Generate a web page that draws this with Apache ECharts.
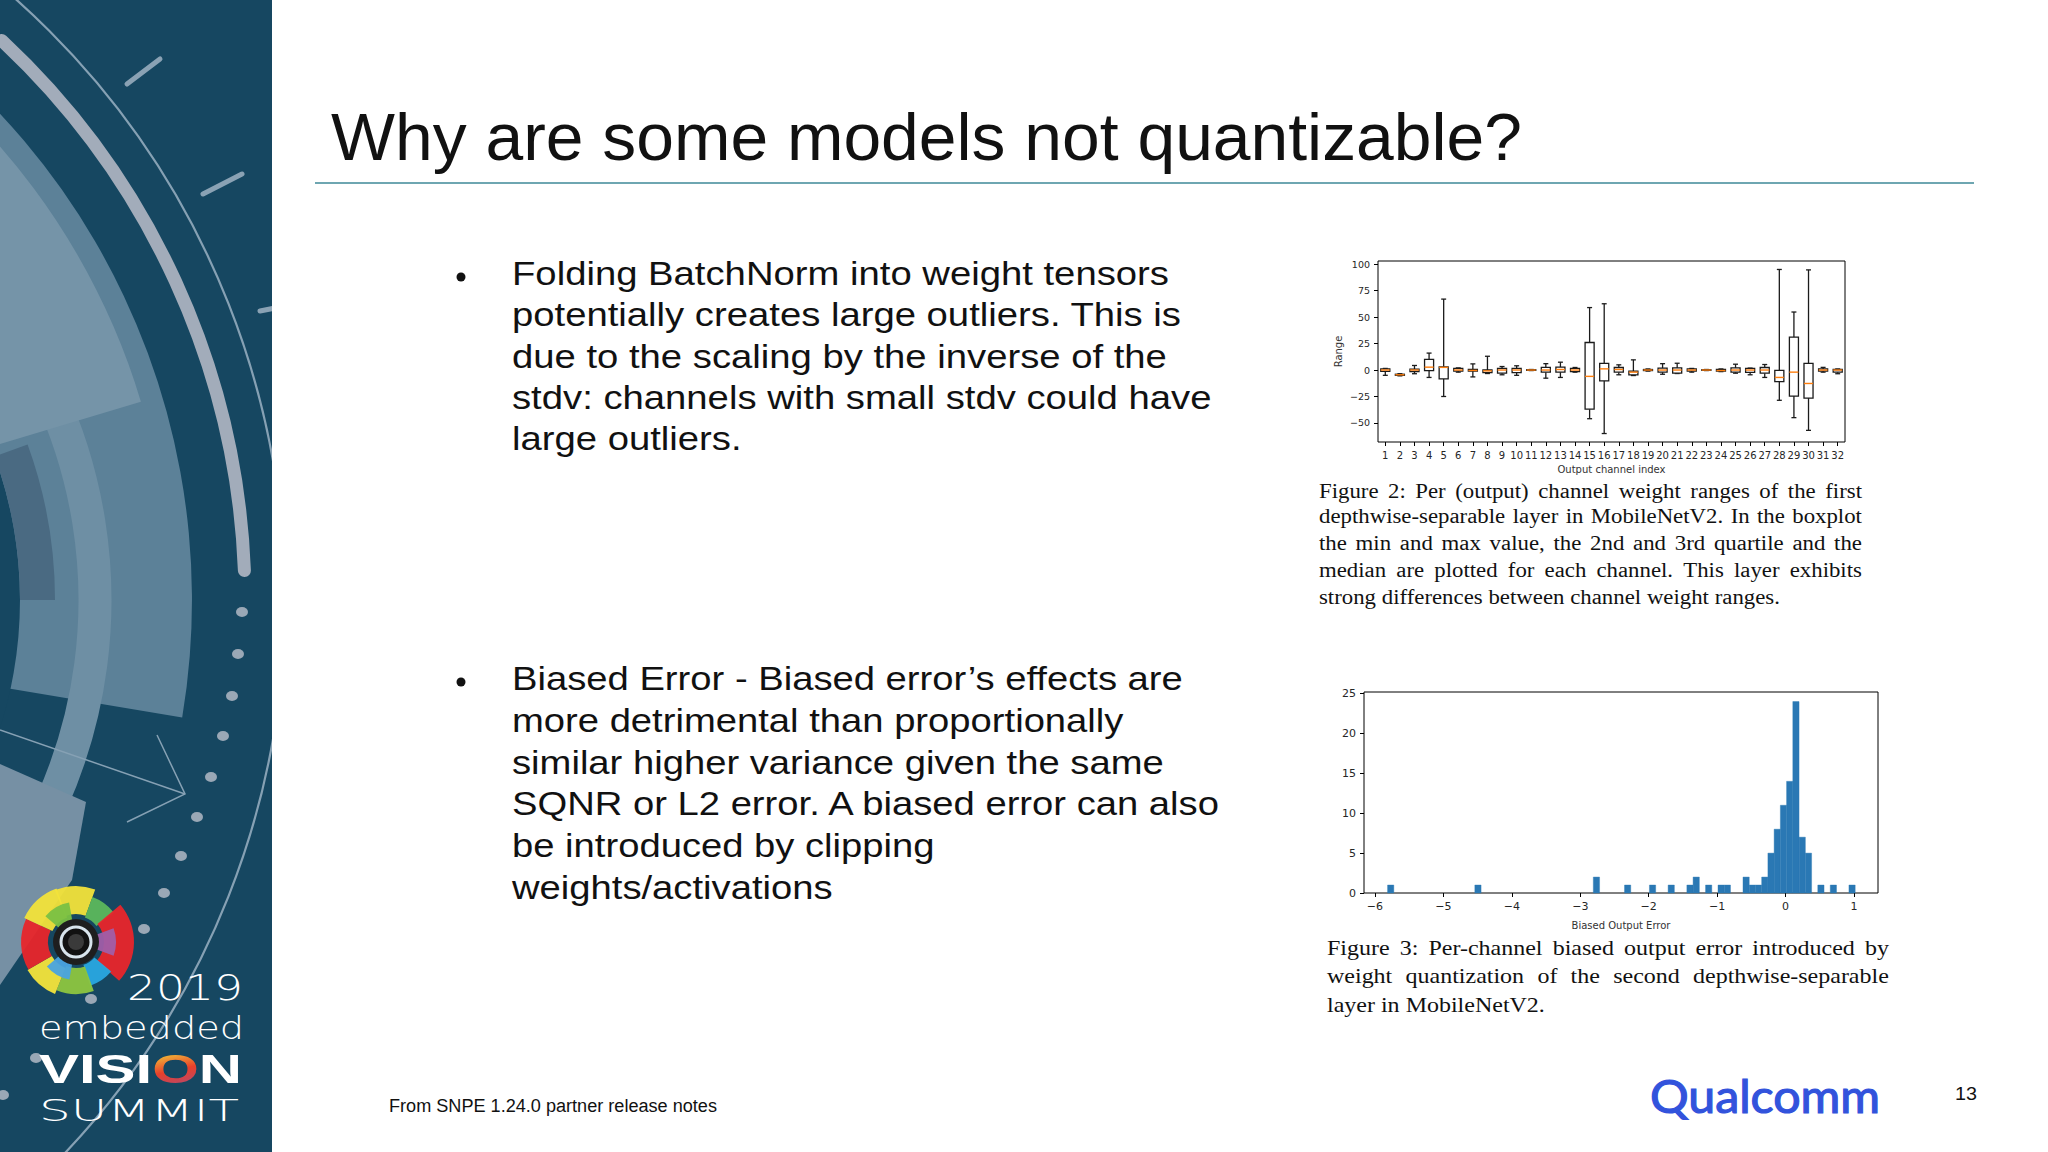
<!DOCTYPE html>
<html><head><meta charset="utf-8">
<script src="https://cdn.jsdelivr.net/npm/echarts@6/dist/echarts.min.js"></script>
<style>
html,body{margin:0;padding:0;background:#fff;width:2048px;height:1152px;overflow:hidden}
#deco,#chart,#txt{position:absolute;left:0;top:0;width:2048px;height:1152px}
#txt{pointer-events:none}
</style></head><body>
<svg id="deco" width="2048" height="1152" xmlns="http://www.w3.org/2000/svg"></svg>
<div id="chart"></div>
<svg id="txt" width="2048" height="1152" xmlns="http://www.w3.org/2000/svg"></svg>
<script>
// ---------------- DATA ----------------
// Figure 2: per-channel weight ranges (boxplot)
const channels  = [1,2,3,4,5,6,7,8,9,10,11,12,13,14,15,16,17,18,19,20,21,22,23,24,25,26,27,28,29,30,31,32];
const boxMin    = [-5,-5.5,-3.5,-7,-25,-2,-6.5,-3.3,-4.5,-5,-0.5,-7.7,-7,-2,-46,-60,-4.5,-5.2,-1,-4,-3.3,-2,-0.5,-1.5,-3,-4.5,-7,-28.6,-45,-57,-2,-3.5];
const boxQ1     = [-1.2,-5,-1.4,-0.5,-8.3,-1,-1,-2.5,-3,-2.5,-0.3,-2,-2,-1.5,-37,-10.2,-2,-4.5,-0.5,-2,-3,-1,-0.3,-1,-2,-2.3,-3,-11,-24.6,-26.5,-1,-2];
const boxMedian = [0,-4.5,0,2.7,2.5,0,-0.4,-0.8,0,0,0,0,0.5,0,-6,1.1,0.5,-2,0,0,0,0,0,-0.5,0,0,0,-7,-2,-12.7,0,0];
const boxQ3     = [1.1,-4,0.8,10,3,1.5,0.5,0,1.5,1.5,0.3,2.5,2.7,1.5,26,6.2,2.4,-1,0.5,1.8,2,1,0.3,0.5,2,1.5,2.4,-0.4,31,6.2,1,0.5];
const boxMax    = [1.5,-3.5,4.3,16,67,2,5.8,13,3.3,4,0.5,6,7.4,2.4,59,62.6,4.9,9.6,1,6,6.4,1.5,0.5,1,5.5,1.8,5.2,95,54.8,94.6,2.5,1];
const boxYTicks = [-50,-25,0,25,50,75,100];

// Figure 3: histogram of per-channel biased output error
const histBinCenter = [-5.770,-4.495,-2.764,-2.308,-1.944,-1.671,-1.397,-1.306,-1.124,-0.942,-0.851,-0.577,-0.486,-0.395,-0.304,-0.213,-0.122,-0.031,0.060,0.151,0.243,0.334,0.516,0.698,0.971];
const histCounts    = [1,1,2,1,1,1,1,2,1,1,1,2,1,1,2,5,8,11,14,24,7,5,1,1,1];
const histBinWidth  = 0.0911;
const histXTicks = [-6,-5,-4,-3,-2,-1,0,1];
const histYTicks = [0,5,10,15,20,25];

// ---------------- CHART ----------------
const minus = v => (v < 0 ? '\u2212' + Math.abs(v) : String(v));
const chart = echarts.init(document.getElementById('chart'), null, {renderer:'svg', width:2048, height:1152});

function valueAxis(grid, min, max, ticks, fs, extra){
  return Object.assign({
    type:'value', gridIndex:grid, min:min, max:max,
    axisLine:{show:false, onZero:false},
    axisTick:{show:true, inside:false, length:4, lineStyle:{color:'#000', width:1}, customValues:ticks},
    axisLabel:{customValues:ticks, formatter:minus, margin:8, hideOverlap:false, fontFamily:'DejaVu Sans', fontSize:fs, color:'#262626'},
    splitLine:{show:false}
  }, extra || {});
}
const nameStyle = {fontFamily:'DejaVu Sans', fontSize:10, color:'#333'};

const boxData = channels.map((c,i)=>[c, boxMin[i], boxQ1[i], boxMedian[i], boxQ3[i], boxMax[i]]);
const histData = histBinCenter.map((c,i)=>[c - histBinWidth/2, c + histBinWidth/2, histCounts[i]]);

chart.setOption({
  animation:false,
  grid:[
    {left:1378, top:261, width:467, height:181, show:true, borderColor:'#000', borderWidth:1, backgroundColor:'transparent'},
    {left:1364, top:692, width:514, height:201, show:true, borderColor:'#000', borderWidth:1, backgroundColor:'transparent'}
  ],
  xAxis:[
    valueAxis(0, 0.5, 32.5, channels, 10, {name:'Output channel index', nameLocation:'middle', nameGap:22, nameTextStyle:nameStyle}),
    valueAxis(1, -6.16, 1.35, histXTicks, 11, {name:'Biased Output Error', nameLocation:'middle', nameGap:27, nameTextStyle:nameStyle})
  ],
  yAxis:[
    valueAxis(0, -68, 103, boxYTicks, 9.5, {name:'Range', nameLocation:'middle', nameGap:35, nameRotate:90, nameTextStyle:nameStyle}),
    valueAxis(1, 0, 25.2, histYTicks, 11)
  ],
  series:[
    {
      type:'custom', xAxisIndex:0, yAxisIndex:0, data:boxData, encode:{x:0, y:[1,2,3,4,5]},
      renderItem:function(params, api){
        const x = api.value(0);
        const lo = api.coord([x, api.value(1)]);
        const q1 = api.coord([x, api.value(2)]);
        const md = api.coord([x, api.value(3)]);
        const q3 = api.coord([x, api.value(4)]);
        const hi = api.coord([x, api.value(5)]);
        const hw = api.size([0.31, 0])[0];
        const cw = hw * 0.55;
        const ls = {stroke:'#1b1b1b', lineWidth:1.3, fill:null};
        return {type:'group', children:[
          {type:'line', shape:{x1:lo[0], y1:lo[1], x2:q1[0], y2:q1[1]}, style:ls},
          {type:'line', shape:{x1:q3[0], y1:q3[1], x2:hi[0], y2:hi[1]}, style:ls},
          {type:'line', shape:{x1:lo[0]-cw, y1:lo[1], x2:lo[0]+cw, y2:lo[1]}, style:ls},
          {type:'line', shape:{x1:hi[0]-cw, y1:hi[1], x2:hi[0]+cw, y2:hi[1]}, style:ls},
          {type:'rect', shape:{x:q1[0]-hw, y:q3[1], width:2*hw, height:Math.max(q1[1]-q3[1], 0.5)},
            style:{fill:'#ffffff', stroke:'#1b1b1b', lineWidth:1.3}},
          {type:'line', shape:{x1:md[0]-hw, y1:md[1], x2:md[0]+hw, y2:md[1]}, style:{stroke:'#ff7f0e', lineWidth:1.4}}
        ]};
      }
    },
    {
      type:'custom', xAxisIndex:1, yAxisIndex:1, data:histData, encode:{x:[0,1], y:2},
      renderItem:function(params, api){
        const p0 = api.coord([api.value(0), api.value(2)]);
        const p1 = api.coord([api.value(1), 0]);
        return {type:'rect', shape:{x:p0[0], y:p0[1], width:p1[0]-p0[0], height:p1[1]-p0[1]},
          style:{fill:'#2a78b4', stroke:'#2a78b4', lineWidth:0.4}};
      }
    }
  ]
});

// ---------------- SLIDE DECORATION & TEXT ----------------
const NS = 'http://www.w3.org/2000/svg';
function mk(parent, tag, attrs, text){
  const e = document.createElementNS(NS, tag);
  for (const k in attrs) e.setAttribute(k, attrs[k]);
  if (text !== undefined) e.textContent = text;
  parent.appendChild(e);
  return e;
}
const deco = document.getElementById('deco');
const defs = mk(deco, 'defs', {});
const cp = mk(defs, 'clipPath', {id:'side'});
mk(cp, 'rect', {x:0, y:0, width:272, height:1152});
const grad = mk(defs, 'linearGradient', {id:'ograd', x1:0, y1:0, x2:1, y2:1});
[['0','#7ac143'],['0.35','#f2d23a'],['0.6','#e8402b'],['1','#8a4fa8']].forEach(s=>mk(grad,'stop',{offset:s[0],'stop-color':s[1]}));
const side = mk(deco, 'g', {'clip-path':'url(#side)'});
const BG = '#164761';
mk(side, 'rect', {x:0, y:0, width:272, height:1152, fill:BG});
const C = [-520, 600];
const C2 = [-400, 600];
function pt(r, a, c){ c = c || C; const t = a*Math.PI/180; return (c[0]+r*Math.cos(t)).toFixed(1)+','+(c[1]+r*Math.sin(t)).toFixed(1); }
function ring(r0, r1, a0, a1, c){
  const lg = (a1-a0) > 180 ? 1 : 0;
  return 'M'+pt(r1,a0,c)+' A'+r1+' '+r1+' 0 '+lg+' 1 '+pt(r1,a1,c)+' L'+pt(r0,a1,c)+' A'+r0+' '+r0+' 0 '+lg+' 0 '+pt(r0,a0,c)+' Z';
}
function arc(r, a0, a1, c){ return 'M'+pt(r,a0,c)+' A'+r+' '+r+' 0 0 1 '+pt(r,a1,c); }
mk(side, 'path', {d:ring(1, 712, -70, 9.5), fill:'#5c8198'});
mk(side, 'path', {d:ring(1, 420, -40, 40, C2), fill:BG});
mk(side, 'path', {d:ring(420, 455, -20, 0, C2), fill:'#4a6a82'});
mk(side, 'path', {d:arc(495, -25, 40, C2), fill:'none', stroke:'#6e8fa4', 'stroke-width':33});
mk(side, 'path', {d:ring(1, 690, -70, -16.7), fill:'#7594a8'});
mk(side, 'path', {d:'M0,764 L86,802 L72,880 L0,985 Z', fill:'#7690a4'});
mk(side, 'circle', {cx:C[0], cy:C[1], r:805, fill:'none', stroke:'#86a1b4', 'stroke-width':2.2});
mk(side, 'path', {d:arc(765, -47, -2.2), fill:'none', stroke:'#a2acba', 'stroke-width':13, 'stroke-linecap':'round'});
[[127,84,160,59],[203,194,242,174],[260,311,280,307]].forEach(l=>{
  mk(side, 'line', {x1:l[0], y1:l[1], x2:l[2], y2:l[3], stroke:'#8aa2b4', 'stroke-width':5, 'stroke-linecap':'round'});
});
[[242,612],[238,654],[232,696],[223,736],[211,777],[197,817],[181,856],[164,893],[144,929],[91,999],[36,1058],[3,1095]].forEach(d=>{
  mk(side, 'ellipse', {cx:d[0], cy:d[1], rx:6, ry:5, fill:'#9aa8b6'});
});
mk(side, 'polyline', {points:'0,730 185,794', fill:'none', stroke:'#86a1b4', 'stroke-width':1.5});
mk(side, 'polyline', {points:'157,735 185,794 127,822', fill:'none', stroke:'#86a1b4', 'stroke-width':1.5});
const W = [76, 942];
[[-112,-70,28,56,'#f2e33a'],[-70,-38,26,48,'#5cb85c'],[-40,42,28,58,'#e8262b'],[40,72,24,46,'#29a8e0'],
 [70,112,26,52,'#8dc63f'],[112,150,28,56,'#f3e53b'],[150,205,28,55,'#e8262b'],[205,250,26,57,'#f2e33a'],
 [-20,20,22,40,'#a05ea8'],[100,140,22,38,'#4aa3df'],[220,260,22,40,'#7ac143']].forEach(s=>{
  mk(side, 'path', {d:ring(s[2], s[3], s[0], s[1], W), fill:s[4], opacity:0.95});
});
mk(side, 'circle', {cx:W[0], cy:W[1], r:23, fill:'#1e1e1e'});
mk(side, 'circle', {cx:W[0], cy:W[1], r:15, fill:'#111', stroke:'#d8e4ec', 'stroke-width':3});
mk(side, 'circle', {cx:W[0], cy:W[1], r:8, fill:'#3a3a3a'});
mk(side, 'text', {x:127, y:1000, fill:'#fff', 'font-family':'DejaVu Sans', 'font-weight':200, 'font-size':36, textLength:116, lengthAdjust:'spacingAndGlyphs'}, '2019');
mk(side, 'text', {x:39, y:1039, fill:'#fff', 'font-family':'DejaVu Sans', 'font-weight':200, 'font-size':32, textLength:205, lengthAdjust:'spacingAndGlyphs'}, 'embedded');
const vs = mk(side, 'text', {x:39, y:1083, fill:'#fff', 'font-family':'Liberation Sans', 'font-weight':700, 'font-size':40, textLength:203, lengthAdjust:'spacingAndGlyphs'});
mk(vs, 'tspan', {}, 'VISI'); mk(vs, 'tspan', {fill:'url(#ograd)'}, 'O'); mk(vs, 'tspan', {}, 'N');
mk(side, 'text', {x:39, y:1121, fill:'#fff', 'font-family':'DejaVu Sans', 'font-weight':200, 'font-size':31, textLength:200, lengthAdjust:'spacingAndGlyphs'}, 'SUMMIT');

const T = document.getElementById('txt');
const SANS = 'Liberation Sans', SERIF = 'Liberation Serif', INK = '#111';
mk(T, 'text', {x:331, y:160, 'font-family':SANS, 'font-size':66, fill:INK, textLength:1191, lengthAdjust:'spacingAndGlyphs'}, 'Why are some models not quantizable?');
mk(T, 'line', {x1:315, y1:183, x2:1974, y2:183, stroke:'#6ea6b1', 'stroke-width':2});

function bulletBlock(lines, baselines, x, firstWidth, fs){
  const g = mk(T, 'g', {});
  const els = lines.map((s,i)=>mk(g, 'text', {x:0, y:baselines[i], 'font-family':SANS, 'font-size':fs, fill:INK}, s));
  const sx = firstWidth / els[0].getComputedTextLength();
  g.setAttribute('transform', 'translate('+x+',0) scale('+sx.toFixed(4)+',1)');
}
mk(T, 'circle', {cx:461, cy:277, r:4.5, fill:INK});
bulletBlock(['Folding BatchNorm into weight tensors','potentially creates large outliers. This is','due to the scaling by the inverse of the','stdv: channels with small stdv could have','large outliers.'],
  [285,326,368,409,450], 512, 657, 33);
mk(T, 'circle', {cx:461, cy:682, r:4.5, fill:INK});
bulletBlock(['Biased Error - Biased error\u2019s effects are','more detrimental than proportionally','similar higher variance given the same','SQNR or L2 error. A biased error can also','be introduced by clipping','weights/activations'],
  [690,732,774,815,857,899], 512, 671, 33);

mk(T, 'text', {x:389, y:1112, 'font-family':SANS, 'font-size':18, fill:INK, textLength:328, lengthAdjust:'spacingAndGlyphs'}, 'From SNPE 1.24.0 partner release notes');
mk(T, 'text', {x:1955, y:1100, 'font-family':SANS, 'font-size':18, fill:INK, textLength:22, lengthAdjust:'spacingAndGlyphs'}, '13');
mk(T, 'text', {x:1650, y:1113, 'font-family':'Lato', 'font-weight':400, 'font-size':46, fill:'#3253dc', stroke:'#3253dc', 'stroke-width':1.2, textLength:230, lengthAdjust:'spacingAndGlyphs'}, 'Qualcomm');

function caption(lines, baselines, x, width, lastWidth, fs){
  const g = mk(T, 'g', {});
  const rows = lines.map((s,i)=>{
    const words = s.split(/\s+/);
    const els = words.map(w=>mk(g, 'text', {x:0, y:baselines[i], 'font-family':SERIF, 'font-size':fs, fill:INK}, w));
    const lens = els.map(e=>e.getComputedTextLength());
    return {els, lens, total:lens.reduce((a,b)=>a+b,0)};
  });
  const sp = fs*0.25;
  const last = rows[rows.length-1];
  const sx = lastWidth / (last.total + sp*(last.els.length-1));
  rows.forEach((r,i)=>{
    const isLast = i === rows.length-1;
    const gap = isLast ? sp : (width/sx - r.total)/(r.els.length-1);
    let cx = 0;
    r.els.forEach((e,k)=>{ e.setAttribute('x', cx.toFixed(2)); cx += r.lens[k] + gap; });
  });
  g.setAttribute('transform', 'translate('+x+',0) scale('+sx.toFixed(4)+',1)');
}
caption(['Figure 2:  Per (output) channel weight ranges of the first','depthwise-separable layer in MobileNetV2.  In the boxplot','the min and max value, the 2nd and 3rd quartile and the','median are plotted for each channel.  This layer exhibits','strong differences between channel weight ranges.'],
  [498,523,550,577,604], 1319, 543, 461, 20);
caption(['Figure 3:  Per-channel biased output error introduced by','weight  quantization  of  the  second  depthwise-separable','layer in MobileNetV2.'],
  [955,983,1012], 1327, 562, 218, 21.5);
</script>
</body></html>
